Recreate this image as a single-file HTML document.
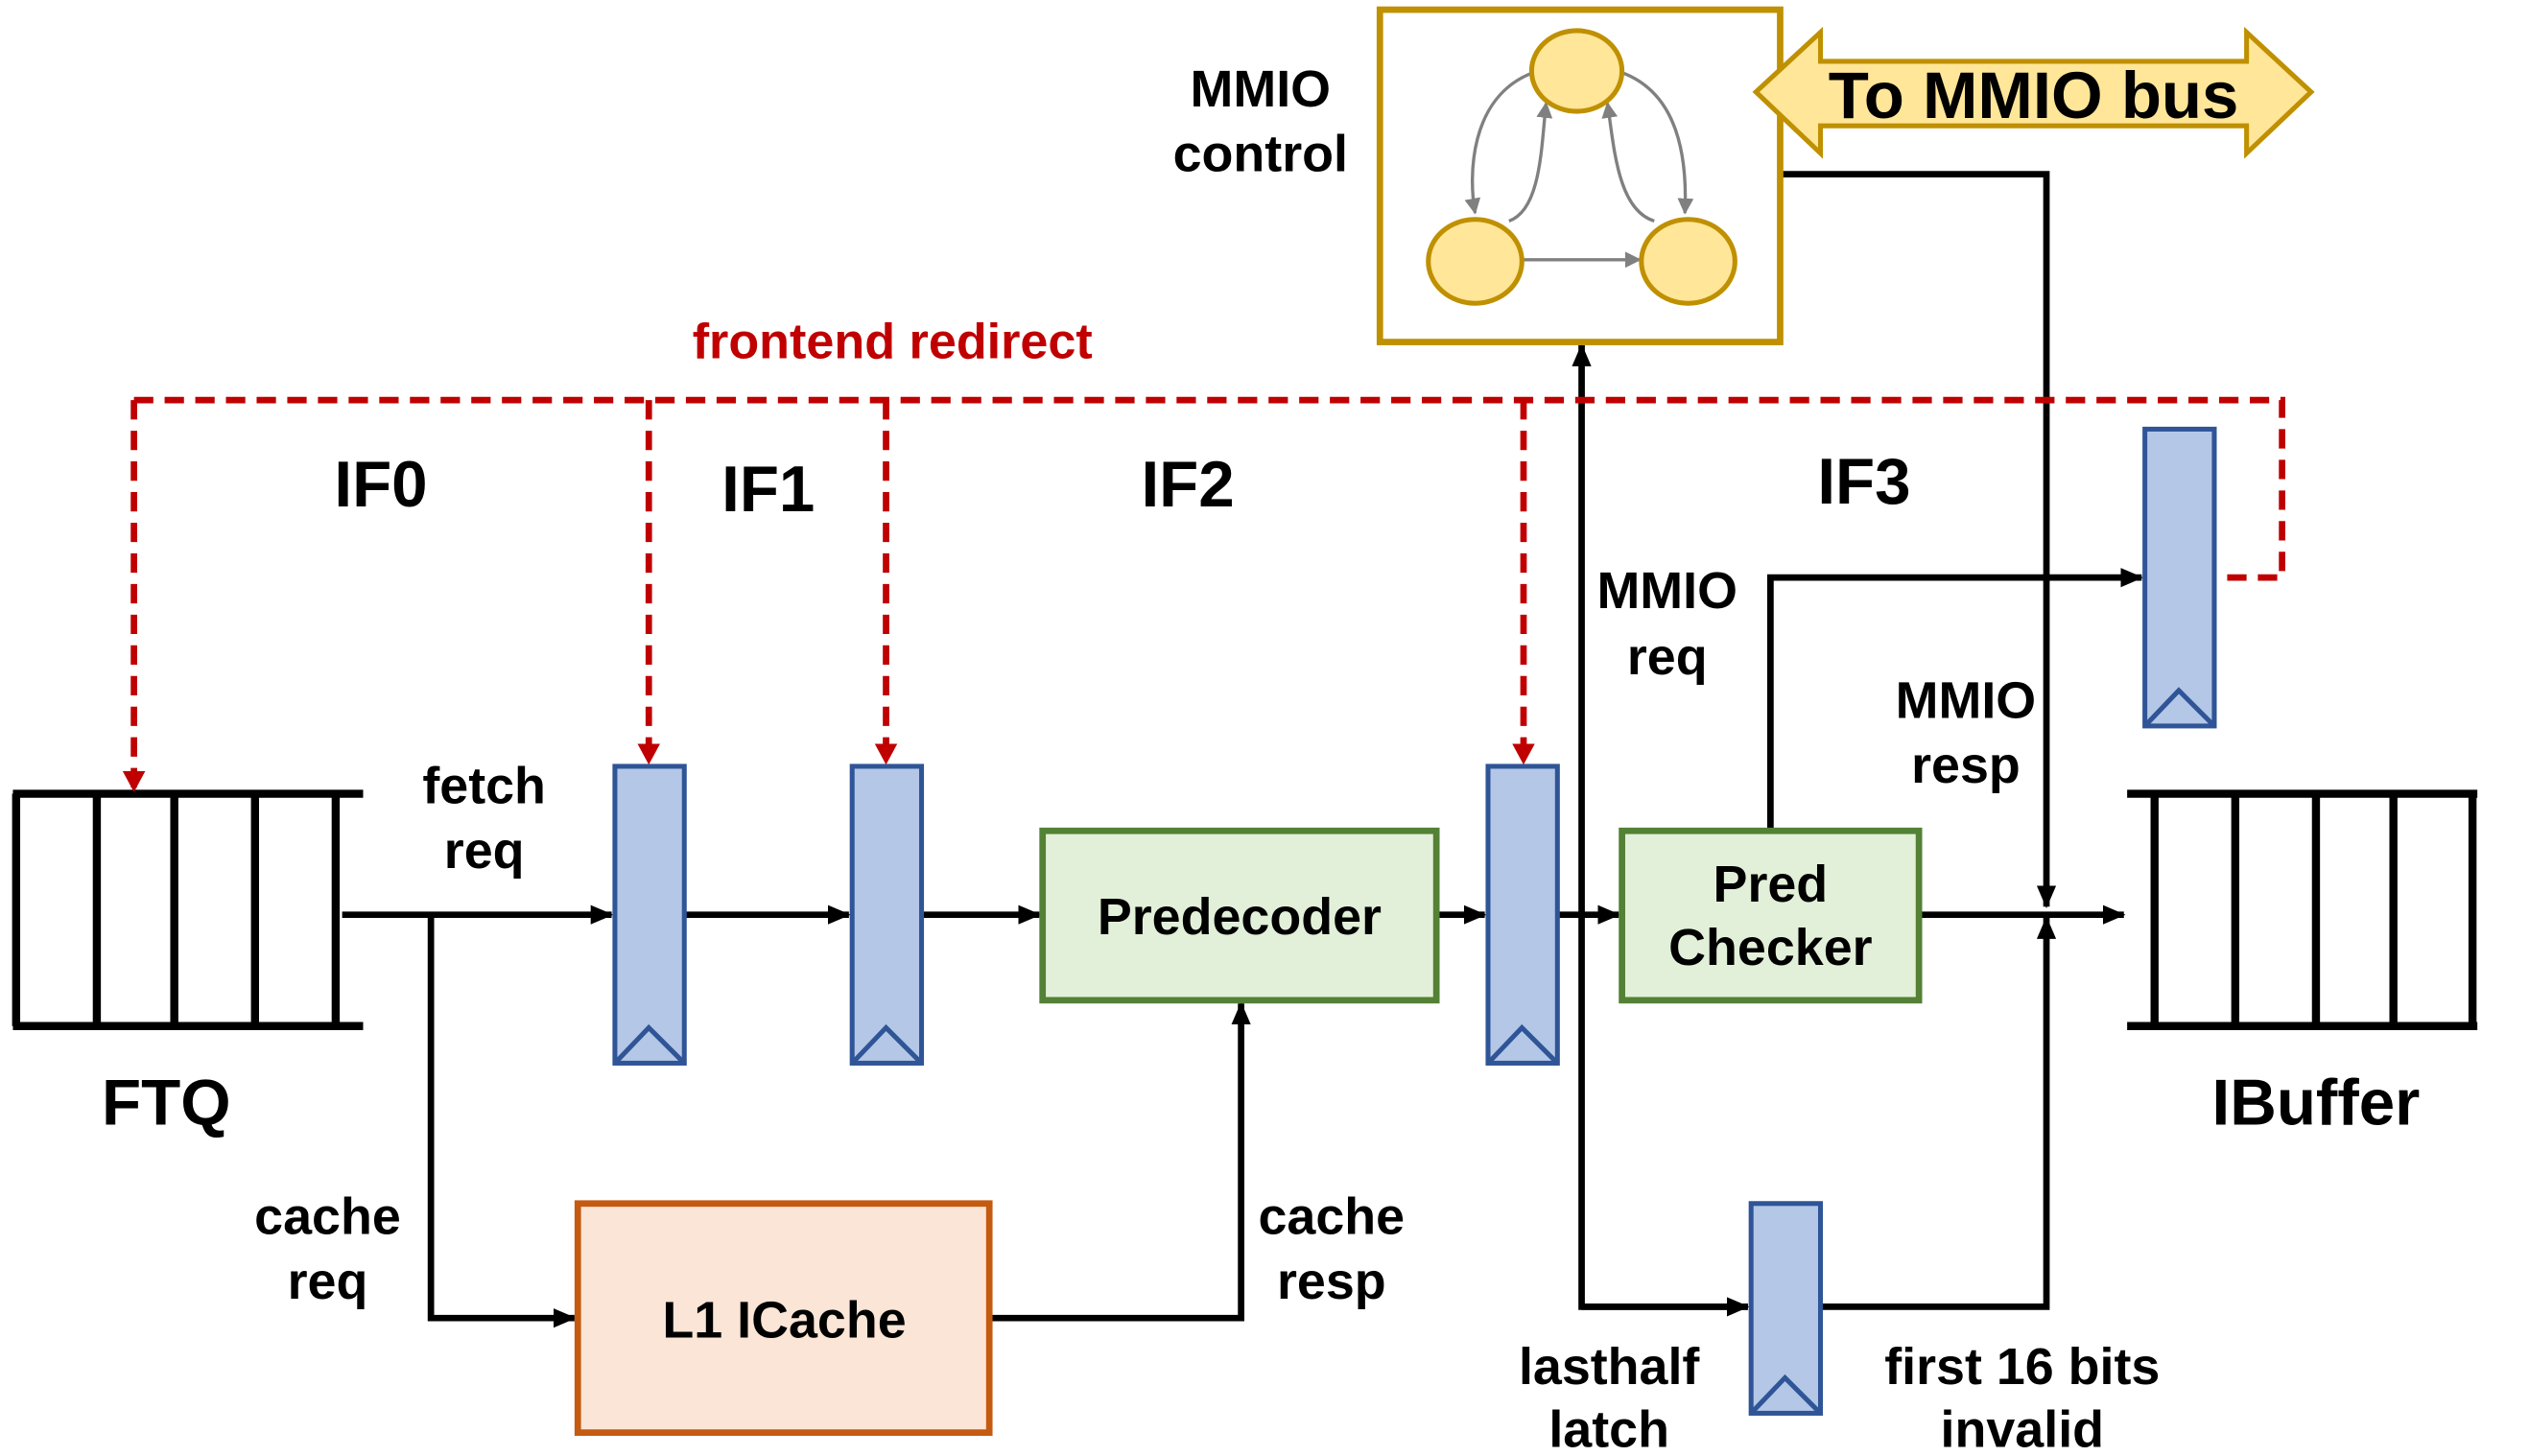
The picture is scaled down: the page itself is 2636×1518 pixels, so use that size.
<!DOCTYPE html>
<html><head><meta charset="utf-8"><style>
html,body{margin:0;padding:0;background:#fff;}
svg{display:block;}
text{font-family:"Liberation Sans",Arial,sans-serif;font-weight:bold;text-anchor:middle;fill:#000;}
</style></head><body>
<svg width="2636" height="1518" viewBox="0 0 1567 902.5" preserveAspectRatio="none" xmlns="http://www.w3.org/2000/svg">
<defs>
<marker id="ab" markerWidth="14" markerHeight="14" refX="13" refY="7" orient="auto" markerUnits="userSpaceOnUse"><path d="M0,1 L14,7 L0,13 z" fill="#000"/></marker>
<marker id="ar" markerWidth="14" markerHeight="14" refX="12" refY="7" orient="auto" markerUnits="userSpaceOnUse"><path d="M0,0 L13,7 L0,14 z" fill="#c00000"/></marker>
<marker id="ag" markerWidth="10" markerHeight="10" refX="9" refY="5" orient="auto" markerUnits="userSpaceOnUse"><path d="M0,0 L10,5 L0,10 z" fill="#808080"/></marker>
</defs>
<g stroke="#000" stroke-width="5" fill="none">
<line x1="8" y1="492" x2="225" y2="492"/><line x1="8" y1="636" x2="225" y2="636"/>
<line x1="10" y1="492" x2="10" y2="636"/><line x1="60" y1="492" x2="60" y2="636"/><line x1="108" y1="492" x2="108" y2="636"/><line x1="158" y1="492" x2="158" y2="636"/><line x1="208" y1="492" x2="208" y2="636"/>
<line x1="1318" y1="492" x2="1535" y2="492"/><line x1="1318" y1="636" x2="1535" y2="636"/>
<line x1="1335" y1="492" x2="1335" y2="636"/><line x1="1385" y1="492" x2="1385" y2="636"/><line x1="1435" y1="492" x2="1435" y2="636"/><line x1="1483" y1="492" x2="1483" y2="636"/><line x1="1532" y1="492" x2="1532" y2="636"/>
</g>
<text x="103" y="697" font-size="40">FTQ</text>
<text x="1435" y="697" font-size="40">IBuffer</text>
<g stroke="#000" stroke-width="4" fill="none">
<line x1="212" y1="567" x2="379" y2="567" marker-end="url(#ab)"/>
<line x1="424" y1="567" x2="526" y2="567" marker-end="url(#ab)"/>
<line x1="571" y1="567" x2="644" y2="567" marker-end="url(#ab)"/>
<line x1="890" y1="567" x2="920" y2="567" marker-end="url(#ab)"/>
<line x1="965" y1="567" x2="1003" y2="567" marker-end="url(#ab)"/>
<line x1="1189" y1="567" x2="1316" y2="567" marker-end="url(#ab)"/>
<polyline points="267,567 267,817 356,817" marker-end="url(#ab)"/>
<polyline points="613,817 769,817 769,622" marker-end="url(#ab)"/>
<polyline points="1083,810 980,810 980,214" marker-end="url(#ab)"/>
<line x1="980" y1="810" x2="1083" y2="810" marker-end="url(#ab)"/>
<polyline points="1128,810 1268,810 1268,569" marker-end="url(#ab)"/>
<polyline points="1103,108 1268,108 1268,562" marker-end="url(#ab)"/>
<polyline points="1097,515 1097,358 1327,358" marker-end="url(#ab)"/>
</g>
<g stroke="#c00000" stroke-width="4" fill="none" stroke-dasharray="12,7">
<polyline points="83,248 1414,248 1414,358 1374,358"/>
<line x1="83" y1="248" x2="83" y2="490" marker-end="url(#ar)"/>
<line x1="402" y1="248" x2="402" y2="473" marker-end="url(#ar)"/>
<line x1="549" y1="248" x2="549" y2="473" marker-end="url(#ar)"/>
<line x1="944" y1="248" x2="944" y2="473" marker-end="url(#ar)"/>
</g>
<text x="553" y="222" font-size="31" style="fill:#c00000">frontend redirect</text>
<g fill="#b4c7e7" stroke="#2f5597" stroke-width="3">
<rect x="381" y="475" width="43" height="184"/><path d="M381,659 L402,637 L424,659" fill="none"/>
<rect x="528" y="475" width="43" height="184"/><path d="M528,659 L549,637 L571,659" fill="none"/>
<rect x="922" y="475" width="43" height="184"/><path d="M922,659 L943,637 L965,659" fill="none"/>
<rect x="1329" y="266" width="43" height="184"/><path d="M1329,450 L1350,428 L1372,450" fill="none"/>
<rect x="1085" y="746" width="43" height="130"/><path d="M1085,876 L1106,854 L1128,876" fill="none"/>
</g>
<rect x="646" y="515" width="244" height="105" fill="#e2f0d9" stroke="#538135" stroke-width="4"/>
<text x="768" y="579" font-size="32">Predecoder</text>
<rect x="1005" y="515" width="184" height="105" fill="#e2f0d9" stroke="#538135" stroke-width="4"/>
<text x="1097" y="559" font-size="32">Pred</text><text x="1097" y="598" font-size="32">Checker</text>
<rect x="358" y="746" width="255" height="142" fill="#fbe5d6" stroke="#c55a11" stroke-width="4"/>
<text x="486" y="829" font-size="32">L1 ICache</text>
<rect x="855" y="6" width="248" height="206" fill="#fff" stroke="#bf9000" stroke-width="4"/>
<g stroke="#808080" stroke-width="2" fill="none">
<path d="M950,45 C910,60 910,110 914,132" marker-end="url(#ag)"/>
<path d="M935,137 C955,130 955,90 958,64" marker-end="url(#ag)"/>
<path d="M1005,45 C1045,60 1045,110 1044,132" marker-end="url(#ag)"/>
<path d="M1025,137 C1002,130 1000,90 996,64" marker-end="url(#ag)"/>
<line x1="944" y1="161" x2="1016" y2="161" marker-end="url(#ag)"/>
</g>
<g fill="#ffe699" stroke="#bf9000" stroke-width="3">
<ellipse cx="977" cy="44" rx="28" ry="25"/>
<ellipse cx="914" cy="162" rx="29" ry="26"/>
<ellipse cx="1046" cy="162" rx="29" ry="26"/>
<path d="M1088,57 L1128,20 L1128,38 L1392,38 L1392,20 L1432,57 L1392,95 L1392,78 L1128,78 L1128,95 Z"/>
</g>
<text x="1260" y="73" font-size="41">To MMIO bus</text>
<text x="236" y="314" font-size="40">IF0</text>
<text x="476" y="317" font-size="40">IF1</text>
<text x="736" y="314" font-size="40">IF2</text>
<text x="1155" y="312" font-size="40">IF3</text>
<g font-size="32">
<text x="300" y="498">fetch</text><text x="300" y="538">req</text>
<text x="203" y="765">cache</text><text x="203" y="805">req</text>
<text x="825" y="765">cache</text><text x="825" y="805">resp</text>
<text x="1033" y="377">MMIO</text><text x="1033" y="418">req</text>
<text x="1218" y="445">MMIO</text><text x="1218" y="485">resp</text>
<text x="781" y="66">MMIO</text><text x="781" y="106">control</text>
<text x="997" y="858">lasthalf</text><text x="997" y="897">latch</text>
<text x="1253" y="858">first 16 bits</text><text x="1253" y="897">invalid</text>
</g>
</svg>
</body></html>
